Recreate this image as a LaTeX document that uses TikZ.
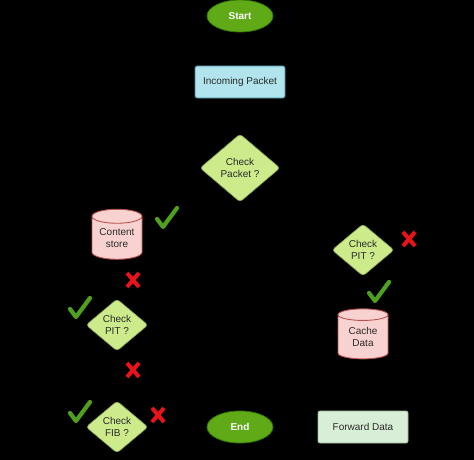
\documentclass[tikz,border=0pt]{standalone}
\usepackage{fontspec}
\setmainfont{Liberation Sans}
\usetikzlibrary{shapes.geometric}
\definecolor{bgc}{HTML}{000000}
\definecolor{ellfill}{HTML}{60A917}
\definecolor{ellline}{HTML}{2D7600}
\definecolor{cyanfill}{HTML}{B1E4EC}
\definecolor{cyanline}{HTML}{3E8A99}
\definecolor{diafill}{HTML}{CDEB8B}
\definecolor{dialine}{HTML}{8AA65A}
\definecolor{cylfill}{HTML}{F8D2D0}
\definecolor{cylline}{HTML}{B85450}
\definecolor{fwdfill}{HTML}{D8EED6}
\definecolor{fwdline}{HTML}{9BB899}
\definecolor{tick}{HTML}{4FA01F}
\definecolor{cross}{HTML}{E8141A}
\definecolor{txt}{HTML}{2A2A2A}
\tikzset{
  x=1pt, y=-1pt,
  every node/.style={font=\fontsize{10}{12}\selectfont, text=txt, align=center, inner sep=0pt},
  term/.style={ellipse, fill=ellfill, draw=ellline, line width=0.8pt, minimum width=66pt, minimum height=32pt, text=white, font=\fontsize{10}{12}\selectfont\bfseries},
  procbox/.style={rectangle, rounded corners=2pt, line width=0.8pt, minimum width=90pt, minimum height=32pt},
  decide/.style={diamond, fill=diafill, draw=dialine, line width=0.6pt, rounded corners=3pt, minimum width=62pt, minimum height=52pt, aspect=1.2},
  store/.style={cylinder, shape border rotate=90, aspect=0.4, fill=cylfill, draw=cylline, line width=0.9pt, minimum width=50pt, minimum height=50pt},
  tickmark/.style={draw=tick, line width=4.2pt, line cap=round, line join=round},
  crossmark/.style={draw=cross, line width=4pt, line cap=butt}
}
\newcommand{\tickat}[2]{\draw[tickmark] (#1-10,#2+1) -- (#1-4,#2+9) -- (#1+10,#2-10);}
\newcommand{\crossat}[2]{\draw[crossmark] (#1-6,#2-7) -- (#1+6,#2+7) (#1+6,#2-7) -- (#1-6,#2+7);}
\begin{document}
\begin{tikzpicture}
\fill[bgc] (0,0) rectangle (474,460);
\useasboundingbox (0,0) rectangle (474,460);
\node[term] (start) at (240,16) {Start};
\node[procbox, fill=cyanfill, draw=cyanline] (incoming) at (240,82) {Incoming Packet};
\node[decide, minimum width=80pt, minimum height=68pt] (checkpkt) at (240,168) {Check\\Packet ?};
\node[store] (cs) at (117,238) {Content\\store};
\node[decide] (pitl) at (117,325) {Check\\PIT ?};
\node[decide] (fib) at (117,427) {Check\\FIB ?};
\node[term] (end) at (240,427) {End};
\node[procbox, fill=fwdfill, draw=fwdline] (fwd) at (363,427) {Forward Data};
\node[decide] (pitr) at (363,250) {Check\\PIT ?};
\node[store] (cache) at (363,337) {Cache\\Data};
\tickat{167}{218}
\crossat{133}{280}
\tickat{80}{308}
\crossat{133}{370}
\tickat{80}{412}
\crossat{158}{415}
\crossat{409}{239}
\tickat{379}{292}
\end{tikzpicture}
\end{document}
